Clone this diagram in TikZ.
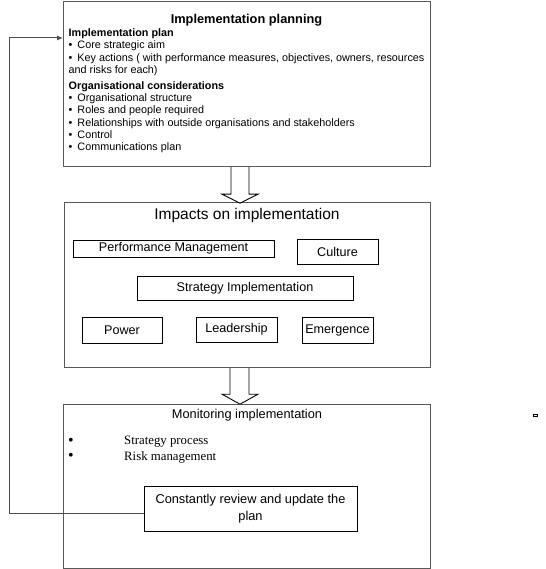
\documentclass[tikz,border=0pt]{standalone}
\usepackage{fontspec}
\setmainfont{Liberation Sans}
\newfontfamily\timesfont{Liberation Serif}
\usetikzlibrary{arrows,arrows.meta,calc,positioning}
\tikzstyle{bigbox} = [rectangle, draw=black!65, line width=1.2pt, inner sep=0pt, anchor=north west]
\tikzstyle{impact} = [rectangle, draw=black, line width=0.9pt, inner sep=0pt, text centered, font=\fontsize{12.6}{15}\selectfont]
\tikzstyle{hollow} = [draw=black, line width=0.9pt]
\tikzstyle{fbline} = [draw=black!70, line width=1pt]

\begin{document}
\begin{tikzpicture}[x=1pt, y=-1pt]
		\useasboundingbox (0,0) rectangle (545,569);
			\node[bigbox, minimum width=367pt, minimum height=165pt] (plan) at (63,1) {};
			\node[bigbox, minimum width=366pt, minimum height=165pt] (impacts) at (64,202) {};
			\node[bigbox, minimum width=367pt, minimum height=164pt] (monitor) at (63,404) {};
			
			%planning text
			\node[font=\bfseries\fontsize{12.8}{15}\selectfont] (plantitle) at (246.5,20) {Implementation planning};
			\node[anchor=north west, align=left, inner sep=0pt, font=\fontsize{10.8}{12.3}\selectfont] (planlist) at (68.5,28.5) {%
				\textbf{Implementation plan}\\
				•\hspace{2pt} Core strategic aim\\
				•\hspace{2pt} Key actions ( with performance measures, objectives, owners, resources\\
				and risks for each)\\[3.5pt]
				\textbf{Organisational considerations}\\
				•\hspace{2pt} Organisational structure\\
				•\hspace{2pt} Roles and people required\\
				•\hspace{2pt} Relationships with outside organisations and stakeholders\\
				•\hspace{2pt} Control\\
				•\hspace{2pt} Communications plan};
			
			%impacts
			\node[font=\fontsize{15.5}{18}\selectfont] (impactstitle) at (247,215) {Impacts on implementation};
			\node[impact, minimum width=201pt, minimum height=17pt] (perf) at (173.5,248.5) {Performance Management};
			\node[impact, minimum width=81pt, minimum height=25pt] (culture) at (337.5,251.5) {Culture};
			\node[impact, minimum width=216pt, minimum height=24pt] (stratimp) at (245,288) {Strategy Implementation};
			\node[impact, minimum width=80pt, minimum height=26pt] (power) at (122,330) {Power};
			\node[impact, minimum width=81pt, minimum height=25pt] (leader) at (236.5,329.5) {Leadership};
			\node[impact, minimum width=71pt, minimum height=26pt] (emerge) at (337.5,330) {Emergence};
			
			%monitoring
			\node[font=\fontsize{12.8}{15}\selectfont] (montitle) at (247,415) {Monitoring implementation};
			\node[inner sep=0pt, font=\timesfont\fontsize{16}{16}\selectfont] (bul1) at (71,442) {•};
			\node[inner sep=0pt, font=\timesfont\fontsize{16}{16}\selectfont] (bul2) at (71,457) {•};
			\node[anchor=west, inner sep=0pt, font=\timesfont\fontsize{12.8}{15}\selectfont] (stratproc) at (124,442) {Strategy process};
			\node[anchor=west, inner sep=0pt, font=\timesfont\fontsize{12.8}{15}\selectfont] (riskman) at (124,457) {Risk management};
			\node[impact, minimum width=213pt, minimum height=45pt, align=center, font=\fontsize{12.8}{16.5}\selectfont] (review) at (250.5,508.5) {Constantly review and update the\\ plan};
			\node[draw, line width=0.6pt, minimum width=4pt, minimum height=2pt, inner sep=0pt] (mark) at (535,415) {};
			
			%arrow
			\draw [hollow] (plan.south west) ++(168,0) -- ++(0,27) -- ++(-9,0) -- ++(18,9) -- ++(18,-9) -- ++(-9,0) -- ++(0,-27);
			\draw [hollow] (impacts.south west) ++(166,0) -- ++(0,26) -- ++(-8,0) -- ++(18,10) -- ++(18,-10) -- ++(-9,0) -- ++(0,-26);
			
			\coordinate (fbstart) at ($(review.south west)+(0,-18)$);
			\coordinate (fbturn) at (9,38);
			\draw [fbline, -{Latex[length=6pt,width=5pt]}] (fbstart) -| (fbturn) -- (plan.west |- fbturn);
			
		\end{tikzpicture}
\end{document}
